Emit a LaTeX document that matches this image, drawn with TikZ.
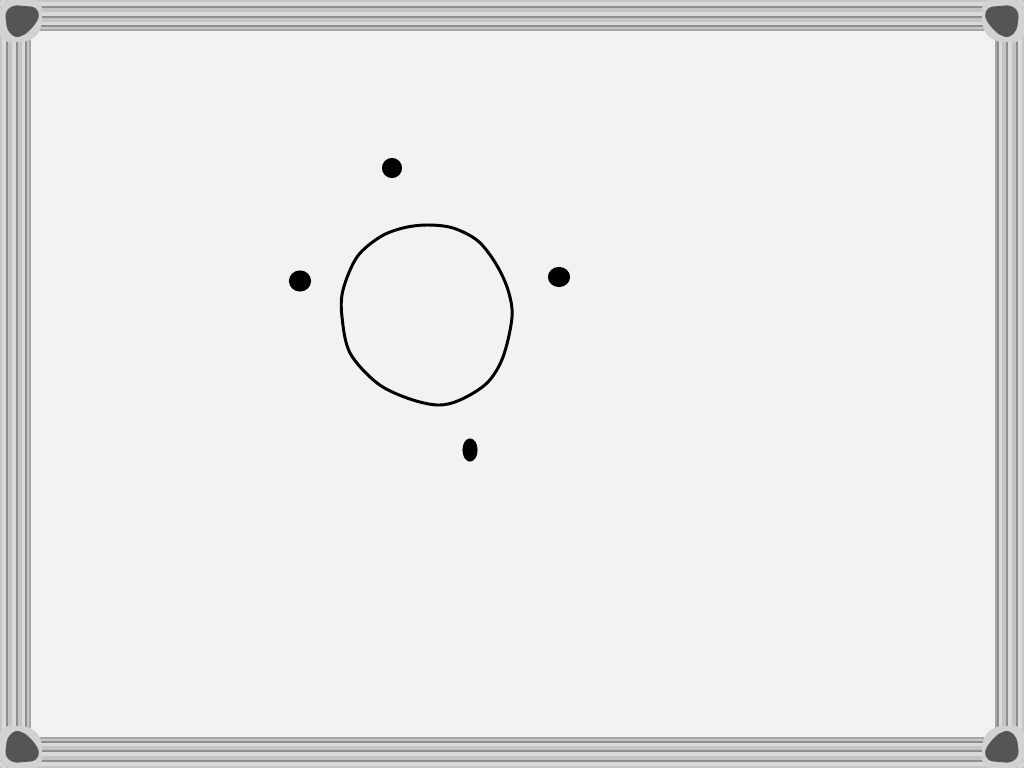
\documentclass[tikz,border=0pt]{standalone}
\usepackage{tikz}
\usetikzlibrary{calc}

\definecolor{board}{HTML}{F2F2F2}
\definecolor{railbase}{HTML}{C4C4C4}
\definecolor{raillight}{HTML}{DADADA}
\definecolor{raildark}{HTML}{8E8E8E}
\definecolor{capdark}{HTML}{555555}
\definecolor{caplight}{HTML}{D2D2D2}

\tikzset{
  ink/.style={line width=0.85pt, black, line join=round, line cap=round},
  inkdot/.style={fill=black, draw=black, line width=0.6pt}
}

\begin{document}
\begin{tikzpicture}[x=0.1mm, y=-0.1mm]

\useasboundingbox (0,0) rectangle (1024,768);

% -------------------------------------------------------
% 1. Board and aluminium rails
% -------------------------------------------------------
\fill[railbase] (0,0) rectangle (1024,768);
\fill[board] (30,30) rectangle (996,738);

% Top and bottom rails: horizontal stripes
\foreach \y in {2,12,22} {
  \fill[raillight] (0,\y) rectangle (1024,\y+4);
  \fill[raillight] (0,768-\y-4) rectangle (1024,768-\y);
}
\foreach \y in {7,17,26} {
  \draw[raildark, line width=0.5pt] (0,\y) -- (1024,\y);
  \draw[raildark, line width=0.5pt] (0,768-\y) -- (1024,768-\y);
}

% Left and right rails: vertical stripes
\foreach \x in {2,12,22} {
  \fill[raillight] (\x,0) rectangle (\x+4,768);
  \fill[raillight] (1024-\x-4,0) rectangle (1024-\x,768);
}
\foreach \x in {7,17,26} {
  \draw[raildark, line width=0.5pt] (\x,0) -- (\x,768);
  \draw[raildark, line width=0.5pt] (1024-\x,0) -- (1024-\x,768);
}

% thin edge round the board
\draw[gray!70, line width=0.5pt] (30,30) rectangle (996,738);

% -------------------------------------------------------
% 2. Corner caps
% -------------------------------------------------------
\foreach \sx/\sy/\dx/\dy in {1/1/0/0, -1/1/1024/0, 1/-1/0/768, -1/-1/1024/768} {
  \begin{scope}[shift={(\dx,\dy)}, xscale=\sx, yscale=\sy]
    \fill[caplight, rounded corners=2.5pt] (0,0) -- (42,0) -- (42,30) -- (30,42) -- (0,42) -- cycle;
    \fill[capdark, rounded corners=1.2pt]
      (5,12) -- (13,5) -- (36,7) -- (40,16) -- (34,26) -- (25,35) -- (15,38) -- (7,30) -- cycle;
  \end{scope}
}

% -------------------------------------------------------
% 3. Hand-drawn circle
% -------------------------------------------------------
\draw[ink] plot[smooth cycle, tension=0.55] coordinates {
  (403,228) (427,225) (453,228) (478,241) (496,264) (508,290)
  (512,317) (503,357) (487,383) (460,400) (437,405) (407,398)
  (377,383) (350,353) (342,317) (343,290) (357,257) (380,237)
};

% -------------------------------------------------------
% 4. Dots
% -------------------------------------------------------
\fill[inkdot] (392,168) ellipse (9 and 9);
\fill[inkdot] (300,281) ellipse (10 and 9.5);
\fill[inkdot] (559,277) ellipse (10 and 9);
\fill[inkdot] (470,450) ellipse (6.5 and 10.5);

\end{tikzpicture}
\end{document}
